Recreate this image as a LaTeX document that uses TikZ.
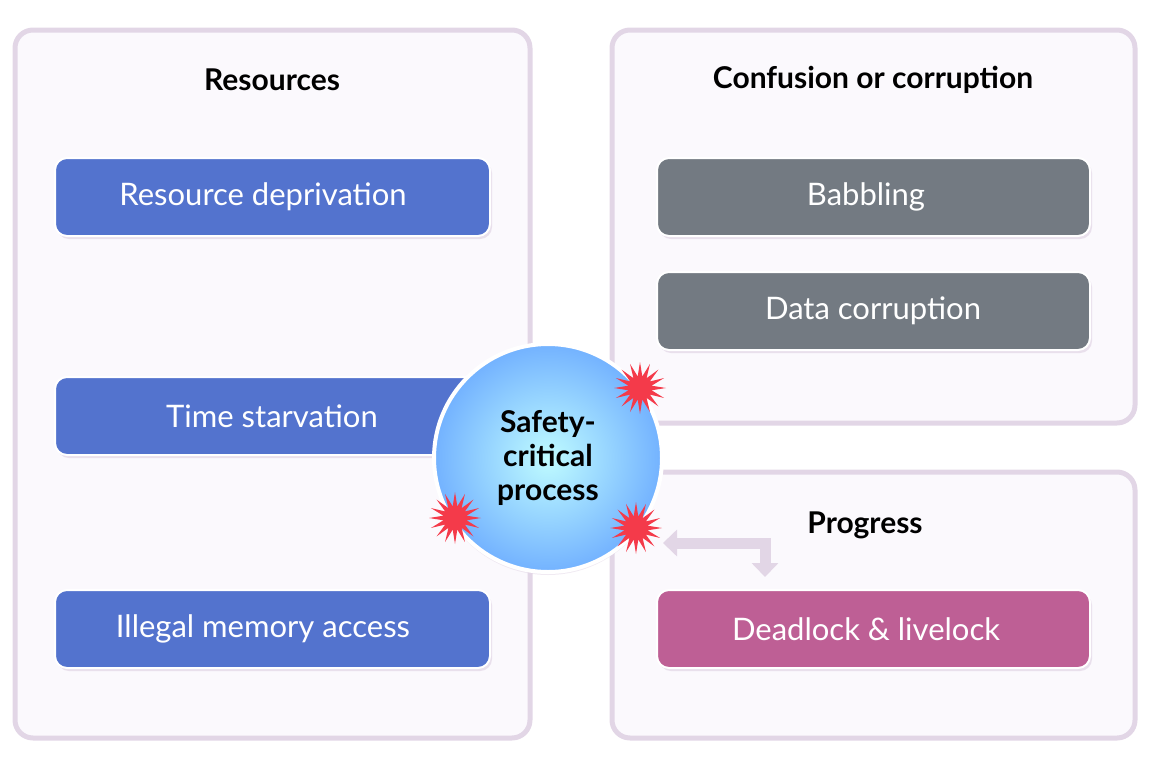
\documentclass[tikz,border=0pt]{standalone}
\usepackage{fontspec}
\setmainfont{Lato}
\usetikzlibrary{shapes.geometric,arrows.meta,shadows}
\definecolor{panelline}{HTML}{E2D6E6}
\definecolor{panelfill}{HTML}{FBF9FD}
\definecolor{resblue}{HTML}{5373CE}
\definecolor{confgray}{HTML}{737A82}
\definecolor{progpink}{HTML}{BE5F95}
\definecolor{burstred}{HTML}{F43A4A}
\begin{document}
\begin{tikzpicture}[x=1pt,y=-1pt,
panel/.style={draw=panelline, line width=5pt, fill=panelfill, rounded corners=18pt},
item/.style={rounded corners=12pt, draw=white, line width=2pt, drop shadow={shadow xshift=2pt, shadow yshift=-3pt, fill=panelline, opacity=.7}},
label/.style={text=white, font=\fontsize{31}{36}\selectfont},
head/.style={font=\fontsize{30}{36}\selectfont\bfseries},
burst/.style={star, star points=16, star point ratio=2.2, fill=burstred, minimum size=52pt, inner sep=0pt}
]
\useasboundingbox (0,0) rectangle (1151,766);
% panels
\draw[panel] (15,30) rectangle (530,738);
\draw[panel] (612,30) rectangle (1135,423);
\draw[panel] (612,472) rectangle (1135,738);
\node[head] (resources) at (272,80) {Resources};
\node[head] (confusion) at (873,80) {Confusion or corruption};
\node[head] (progress) at (865,525) {Progress};
% items
\filldraw[item, fill=resblue] (55,158) rectangle (490,236);
\node[label] (deprivation) at (263,197) {Resource deprivation};
\filldraw[item, fill=resblue] (55,377) rectangle (490,455);
\node[label] (starvation) at (272,416) {Time starvation};
\filldraw[item, fill=resblue] (55,590) rectangle (490,668);
\node[label] (memory) at (263,629) {Illegal memory access};
\filldraw[item, fill=confgray] (657,158) rectangle (1090,236);
\node[label] (babbling) at (866,197) {Babbling};
\filldraw[item, fill=confgray] (657,272) rectangle (1090,350);
\node[label] (corruption) at (873,311) {Data corruption};
\filldraw[item, fill=progpink] (657,590) rectangle (1090,668);
\node[label] (deadlock) at (866,629) {Deadlock \& livelock};
% arrow
\coordinate (arrowL) at (663,543);
\coordinate (arrowD) at (765,577);
\draw[panelline, line width=11pt, {Triangle[length=14pt,width=26pt]}-{Triangle[length=14pt,width=26pt]}] (arrowL) -- (765,543) -- (arrowD);
% process
\node[circle, draw=white, line width=4pt, minimum size=228pt, inner color=blue!5!cyan!25, outer color=cyan!45!blue!55,
  font=\fontsize{30}{34}\selectfont\bfseries, align=center, drop shadow={shadow xshift=0pt, shadow yshift=-3pt, fill=panelline}] (process) at (548,458) {Safety-\\critical\\process};
\node[burst] (burst1) at (640,388) {};
\node[burst] (burst2) at (455,518) {};
\node[burst] (burst3) at (636,528) {};
\end{tikzpicture}
\end{document}
